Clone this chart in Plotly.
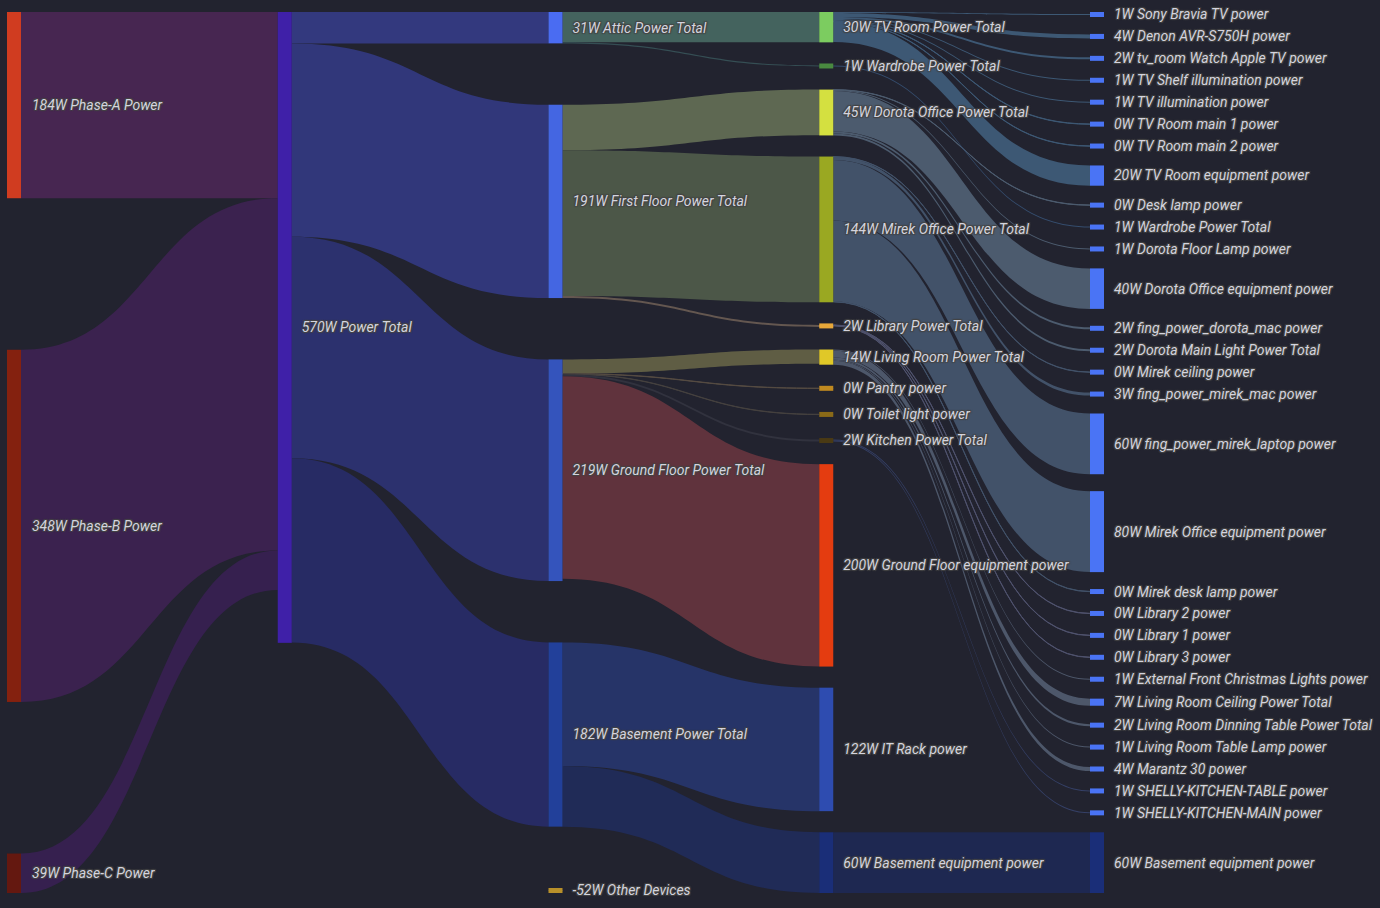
import plotly.graph_objects as go

# ---------------- data ----------------
node_names = [
    "Phase-A Power", "Phase-B Power", "Phase-C Power",
    "Power Total",
    "Attic Power Total", "First Floor Power Total", "Ground Floor Power Total",
    "Basement Power Total", "Other Devices",
    "TV Room Power Total", "Wardrobe Power Total", "Dorota Office Power Total",
    "Mirek Office Power Total", "Library Power Total", "Living Room Power Total",
    "Pantry power", "Toilet light power", "Kitchen Power Total",
    "Ground Floor equipment power", "IT Rack power", "Basement equipment power",
    "Sony Bravia TV power", "Denon AVR-S750H power", "tv_room Watch Apple TV power",
    "TV Shelf illumination power", "TV illumination power", "TV Room main 1 power",
    "TV Room main 2 power", "TV Room equipment power",
    "Desk lamp power", "Wardrobe Power Total", "Dorota Floor Lamp power",
    "Dorota Office equipment power", "fing_power_dorota_mac power",
    "Dorota Main Light Power Total",
    "Mirek ceiling power", "fing_power_mirek_mac power", "fing_power_mirek_laptop power",
    "Mirek Office equipment power", "Mirek desk lamp power",
    "Library 2 power", "Library 1 power", "Library 3 power",
    "External Front Christmas Lights power", "Living Room Ceiling Power Total",
    "Living Room Dinning Table Power Total", "Living Room Table Lamp power",
    "Marantz 30 power",
    "SHELLY-KITCHEN-TABLE power", "SHELLY-KITCHEN-MAIN power",
    "Basement equipment power",
]
node_watts = [
    184, 348, 39,
    570,
    31, 191, 219, 182, -52,
    30, 1, 45, 144, 2, 14, 0, 0, 2, 200, 122, 60,
    1, 4, 2, 1, 1, 0, 0, 20,
    0, 1, 1, 40, 2, 2,
    0, 3, 60, 80, 0,
    0, 0, 0,
    1, 7, 2, 1, 4,
    1, 1,
    60,
]
# column (stage) of each node, listed top to bottom inside a column
node_stage = [0, 0, 0, 1] + [2] * 5 + [3] * 12 + [4] * 30

# flows: source index -> target index, watts
link_source = [
    0, 1, 2,
    3, 3, 3, 3, 3,
    4, 4, 5, 5, 5, 6, 6, 6, 6, 6, 7, 7,
    9, 9, 9, 9, 9, 9, 9, 9,
    11, 10, 11, 11, 11, 11,
    12, 12, 12, 12, 12,
    13, 13, 13,
    14, 14, 14, 14, 14,
    17, 17,
    20,
]
link_target = [
    3, 3, 3,
    4, 5, 6, 7, 8,
    9, 10, 11, 12, 13, 14, 15, 16, 17, 18, 19, 20,
    21, 22, 23, 24, 25, 26, 27, 28,
    29, 30, 31, 32, 33, 34,
    35, 36, 37, 38, 39,
    40, 41, 42,
    43, 44, 45, 46, 47,
    48, 49,
    50,
]
link_watts = [
    184, 348, 39,
    31, 191, 219, 182, 0,
    30, 1, 45, 144, 2, 14, 0, 0, 2, 200, 122, 60,
    1, 4, 2, 1, 1, 0, 0, 20,
    0, 1, 1, 40, 2, 2,
    0, 3, 60, 80, 0,
    0, 0, 0,
    1, 7, 2, 1, 4,
    1, 1,
    60,
]

node_colors = [
    "#d03c20", "#84210f", "#641810",
    "#3f20a8",
    "#4a6cf2", "#4466e2", "#3454bc", "#22409a", "#b8902a",
    "#7ccc60", "#4a8a40", "#d4e040", "#9aa822", "#e8a83a", "#e0c828",
    "#c08a20", "#8a6a18", "#4a3a14", "#e43c10", "#2e4cb0", "#1a2e78",
] + ["#4a74f5"] * 29 + ["#1a2e78"]

# ---------------- styling / layout constants ----------------
BG = "#22232f"
W_PX, H_PX = 1380, 908
TOP, BOTTOM = 12, 15            # free space above / below the diagram
X0, COL_STEP = 14, 270.75       # centre of first column, distance between columns
THICK = 14
PAD = 20
MIN_PX = 5                      # smallest visible node height
ZERO_FLOW = 0.3                 # 0 W flows still need a positive value to be drawn
INNER_H = H_PX - TOP - BOTTOM


def hex_rgb(h):
    h = h.lstrip("#")
    return tuple(int(h[i:i + 2], 16) for i in (0, 2, 4))


def blend(c1, c2, t, alpha):
    a, b, bg = hex_rgb(c1), hex_rgb(c2), hex_rgb(BG)
    mix = [a[i] * (1 - t) + b[i] * t for i in range(3)]
    out = [round(alpha * mix[i] + (1 - alpha) * bg[i]) for i in range(3)]
    return "rgb(%d,%d,%d)" % tuple(out)


n_nodes = len(node_names)
flow = [max(w, ZERO_FLOW) for w in link_watts]

# node value as the sankey library computes it: max(in, out)
inflow = [0.0] * n_nodes
outflow = [0.0] * n_nodes
for s, t, v in zip(link_source, link_target, flow):
    outflow[s] += v
    inflow[t] += v
node_val = [max(a, b) for a, b in zip(inflow, outflow)]

n_stage = max(node_stage) + 1
columns = [[i for i in range(n_nodes) if node_stage[i] == c] for c in range(n_stage)]
ky = min((INNER_H - (len(col) - 1) * PAD) / sum(node_val[i] for i in col) for col in columns)

# spread every column over the full height, keeping the listed order
cx = [0.0] * n_nodes
cy = [0.0] * n_nodes
for c, col in enumerate(columns):
    vis = [max(node_val[i] * ky, MIN_PX) for i in col]
    gap = (INNER_H - sum(vis)) / (len(col) - 1) if len(col) > 1 else 0
    y = 0.0
    for i, h in zip(col, vis):
        cx[i] = X0 + c * COL_STEP
        cy[i] = y + h / 2
        y += h + gap

labels = ["\u00a0\u00a0%dW %s" % (w, n) for w, n in zip(node_watts, node_names)]
colors = list(node_colors)
xs = [v / W_PX for v in cx]
ys = [v / INNER_H for v in cy]

# invisible helper node one column further right (keeps last labels on the right side)
labels.append("")
colors.append("rgba(0,0,0,0)")
xs.append((X0 + n_stage * COL_STEP) / W_PX)
ys.append(ys[n_nodes - 1])

src, tgt, val, lcol = [], [], [], []
for s, t, v in zip(link_source, link_target, flow):
    src.append(s)
    tgt.append(t)
    val.append(v)
    if node_watts[t] < 0:
        lcol.append("rgba(0,0,0,0)")
    else:
        lcol.append(blend(node_colors[s], node_colors[t], 0.65, 0.47))
src.append(n_nodes - 1)
tgt.append(n_nodes)
val.append(0.001)
lcol.append("rgba(0,0,0,0)")

fig = go.Figure()
fig.add_trace(go.Sankey(
    arrangement="fixed",
    node=dict(
        label=labels, color=colors, x=xs, y=ys,
        thickness=THICK, pad=PAD, align="left",
        line=dict(color=BG, width=0),
        hoverinfo="skip",
    ),
    link=dict(source=src, target=tgt, value=val, color=lcol, hoverinfo="skip"),
    textfont=dict(family="Roboto", size=14, color="#d4d4de", style="italic"),
    domain=dict(x=[0, 1], y=[BOTTOM / H_PX, 1 - TOP / H_PX]),
))

# small nodes get a minimum visible height, drawn as short bars at the node centres
small = [i for i in range(n_nodes) if node_val[i] * ky < MIN_PX]
fig.add_trace(go.Scatter(
    x=[cx[i] for i in small],
    y=[TOP + cy[i] for i in small],
    mode="markers",
    marker=dict(symbol="line-ew", size=THICK / 1.4,
                line=dict(width=MIN_PX, color=[node_colors[i] for i in small])),
    hoverinfo="skip", showlegend=False,
))

fig.update_layout(
    width=W_PX, height=H_PX,
    paper_bgcolor=BG, plot_bgcolor=BG,
    margin=dict(l=0, r=0, t=0, b=0),
    xaxis=dict(range=[0, W_PX], visible=False, fixedrange=True, domain=[0, 1]),
    yaxis=dict(range=[H_PX, 0], visible=False, fixedrange=True, domain=[0, 1]),
    hovermode=False, showlegend=False,
)
fig.write_html("out.html", config={"displayModeBar": False})
with open("out.html", encoding="utf-8") as f:
    html = f.read()
html = html.replace("<body>", '<body style="margin:0;background:%s">' % BG, 1)
with open("out.html", "w", encoding="utf-8") as f:
    f.write(html)
